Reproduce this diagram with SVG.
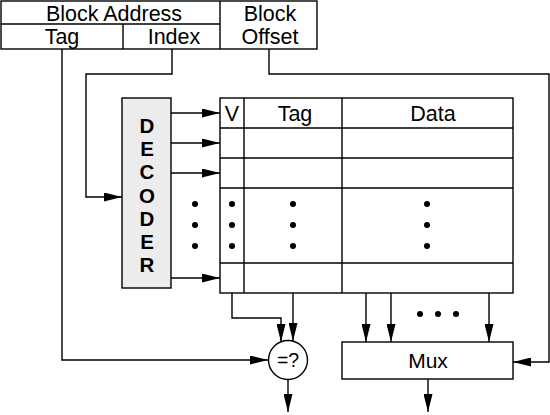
<svg xmlns="http://www.w3.org/2000/svg" width="550" height="415" viewBox="0 0 550 415">
<style>
.ln{fill:none;stroke:#000;stroke-width:1.4}
.bx{fill:#fff;stroke:#000;stroke-width:1.4}
.t{font-family:"Liberation Sans",Arial,sans-serif;font-size:21.5px;fill:#000;text-anchor:middle}
.d{font-family:"Liberation Sans",Arial,sans-serif;font-size:20.5px;font-weight:bold;fill:#000;text-anchor:middle}
.dot{fill:#000}
</style>
<defs>
<marker id="ah" markerWidth="18" markerHeight="9" refX="18" refY="4.5" orient="auto" markerUnits="userSpaceOnUse">
<path d="M0,0 L18,4.5 L0,9 Z" fill="#000"/>
</marker>
</defs>
<g id="address">
<rect class="bx" x="1" y="1" width="316" height="48"/>
<line class="ln" x1="1" y1="24" x2="220" y2="24"/>
<line class="ln" x1="220" y1="1" x2="220" y2="49"/>
<line class="ln" x1="123" y1="24" x2="123" y2="49"/>
<text class="t" x="114" y="21">Block Address</text>
<text class="t" x="62" y="44">Tag</text>
<text class="t" x="174" y="44">Index</text>
<text class="t" x="270" y="21">Block</text>
<text class="t" x="270" y="44">Offset</text>
</g>
<g id="decoder">
<rect x="122" y="98" width="49" height="190" fill="#ececec" stroke="#000" stroke-width="1.4"/>
<text class="d" x="147" y="133">D</text>
<text class="d" x="147" y="156">E</text>
<text class="d" x="147" y="179">C</text>
<text class="d" x="147" y="203">O</text>
<text class="d" x="147" y="226">D</text>
<text class="d" x="147" y="249">E</text>
<text class="d" x="147" y="272">R</text>
</g>
<g id="cache">
<rect class="bx" x="220" y="98" width="293" height="195"/>
<line class="ln" x1="244" y1="98" x2="244" y2="293"/>
<line class="ln" x1="342" y1="98" x2="342" y2="293"/>
<line class="ln" x1="220" y1="128" x2="513" y2="128"/>
<line class="ln" x1="220" y1="158" x2="513" y2="158"/>
<line class="ln" x1="220" y1="188" x2="513" y2="188"/>
<line class="ln" x1="220" y1="263" x2="513" y2="263"/>
<text class="t" x="232" y="121">V</text>
<text class="t" x="295" y="121">Tag</text>
<text class="t" x="433" y="121">Data</text>
<g class="dot">
<circle cx="195" cy="204" r="3"/><circle cx="195" cy="225" r="3"/><circle cx="195" cy="246" r="3"/>
<circle cx="232" cy="204" r="3"/><circle cx="232" cy="225" r="3"/><circle cx="232" cy="246" r="3"/>
<circle cx="293" cy="204" r="3"/><circle cx="293" cy="225" r="3"/><circle cx="293" cy="246" r="3"/>
<circle cx="427" cy="204" r="3"/><circle cx="427" cy="225" r="3"/><circle cx="427" cy="246" r="3"/>
<circle cx="420" cy="314" r="3"/><circle cx="438" cy="314" r="3"/><circle cx="456" cy="314" r="3"/>
</g>
</g>
<g id="compare">
<circle class="bx" cx="288" cy="360" r="19.5"/>
<text class="t" x="288" y="367" style="font-size:19.5px">=?</text>
</g>
<g id="mux">
<rect class="bx" x="342" y="342" width="171" height="37"/>
<text class="t" x="428" y="368" style="font-size:21px">Mux</text>
</g>
<g id="connectors">
<path class="ln" d="M62,49 V360 H268" marker-end="url(#ah)"/>
<path class="ln" d="M172,49 V74 H86 V197 H122" marker-end="url(#ah)"/>
<path class="ln" d="M269,49 V74 H549 V362 H513" marker-end="url(#ah)"/>
<path class="ln" d="M171,113 H220" marker-end="url(#ah)"/>
<path class="ln" d="M171,143 H220" marker-end="url(#ah)"/>
<path class="ln" d="M171,173 H220" marker-end="url(#ah)"/>
<path class="ln" d="M171,278 H220" marker-end="url(#ah)"/>
<path class="ln" d="M232,293 V318 H281 V342" marker-end="url(#ah)"/>
<path class="ln" d="M293,293 V341" marker-end="url(#ah)"/>
<path class="ln" d="M366,293 V342" marker-end="url(#ah)"/>
<path class="ln" d="M391,293 V342" marker-end="url(#ah)"/>
<path class="ln" d="M489,293 V342" marker-end="url(#ah)"/>
<path class="ln" d="M288,379.5 V412" marker-end="url(#ah)"/>
<path class="ln" d="M428,379 V412" marker-end="url(#ah)"/>
</g>
</svg>
